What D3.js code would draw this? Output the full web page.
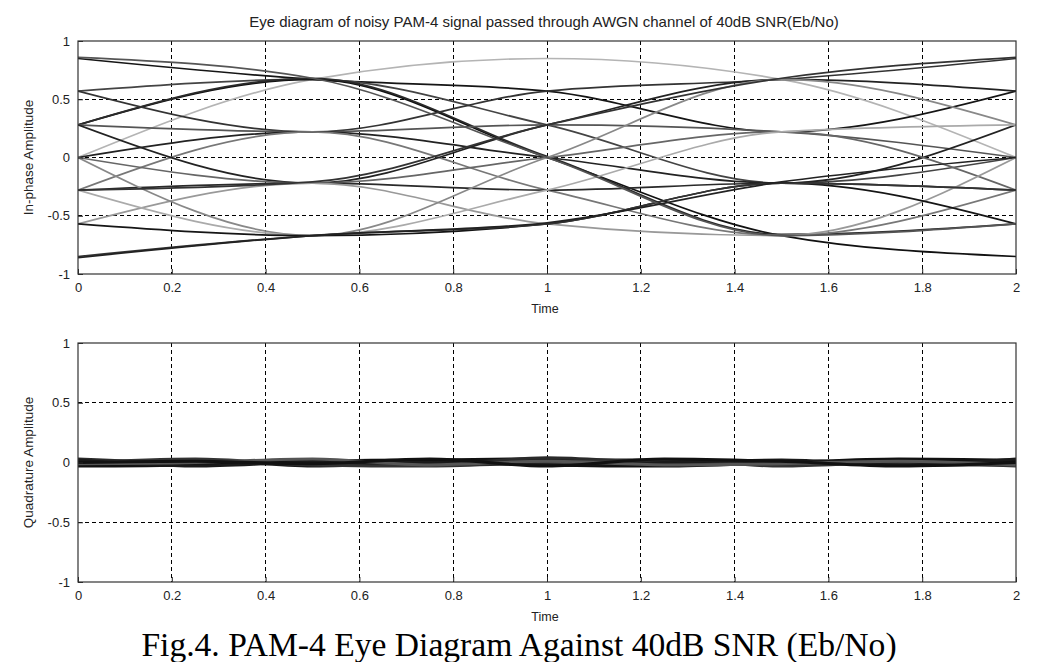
<!DOCTYPE html>
<html><head><meta charset="utf-8">
<script src="https://cdn.jsdelivr.net/npm/d3@7"></script>
<style>body{margin:0;background:#fff} svg{display:block}</style>
</head><body><svg id="c" width="1041" height="662"></svg>
<script>
// ---- data ----
const timePoints = [0, 0.5, 1, 1.5, 2];
const inphaseTraces = [
  [0.00, 0.67, 0.85, 0.67, 0.00],
  [0.85, 0.67, 0.57, 0.22, 0.57],
  [0.57, 0.67, 0.28, -0.22, 0.00],
  [0.28, 0.67, 0.00, -0.67, -0.85],
  [0.28, 0.68, 0.01, -0.66, -0.57],
  [0.57, 0.22, 0.57, 0.67, 0.85],
  [0.28, 0.22, 0.28, 0.22, 0.00],
  [0.00, 0.22, 0.00, -0.22, 0.28],
  [-0.28, 0.22, -0.28, -0.67, -0.28],
  [0.28, -0.22, 0.28, 0.67, 0.57],
  [0.00, -0.22, 0.00, 0.22, -0.28],
  [-0.28, -0.22, -0.28, -0.22, -0.28],
  [-0.57, -0.22, -0.57, -0.67, 0.00],
  [0.00, -0.67, 0.00, 0.67, 0.28],
  [-0.28, -0.67, -0.28, 0.22, 0.28],
  [-0.57, -0.67, -0.57, -0.22, -0.57],
  [-0.85, -0.67, -0.57, -0.22, -0.28],
  [0.86, 0.68, 0.00, -0.67, -0.57],
  [-0.28, -0.21, 0.28, 0.68, 0.86],
  [-0.86, -0.67, -0.56, -0.21, 0.00]
];
const inphaseColors = ["#b4b4b4","#151515","#444444","#111111","#2a2a2a","#333333","#555555","#222222",
  "#777777","#222222","#666666","#2a2a2a","#999999","#888888","#aaaaaa","#151515","#333333","#555555","#333333","#222222"];
const quadTime = [0, 0.25, 0.5, 0.75, 1, 1.25, 1.5, 1.75, 2];
const quadTraces = [
  [0.02, -0.01, 0.00, 0.02, 0.03, -0.01, 0.00, 0.02, 0.01],
  [-0.02, 0.02, -0.03, 0.00, 0.02, 0.02, -0.02, 0.00, 0.02],
  [0.03, 0.00, 0.02, -0.02, 0.04, 0.00, 0.01, -0.02, -0.02],
  [-0.03, -0.02, 0.01, 0.02, -0.02, -0.03, 0.00, 0.03, 0.02],
  [0.00, 0.03, -0.02, -0.03, 0.00, 0.02, -0.03, 0.00, -0.03],
  [0.02, -0.03, 0.00, 0.00, -0.02, 0.00, 0.02, -0.02, 0.03],
  [-0.01, 0.00, 0.03, -0.02, 0.01, -0.02, -0.01, 0.01, -0.02],
  [0.00, 0.01, -0.01, 0.03, -0.03, 0.03, 0.01, -0.03, 0.00]
];
const quadColors = ["#111111","#1a1a1a","#2a2a2a","#111111","#333333","#1a1a1a","#555555","#111111"];
const xTicks = [0, 0.2, 0.4, 0.6, 0.8, 1, 1.2, 1.4, 1.6, 1.8, 2];
const xTickLabels = ["0","0.2","0.4","0.6","0.8","1","1.2","1.4","1.6","1.8","2"];
const yTicks = [-1, -0.5, 0, 0.5, 1];
const yTickLabels = ["-1","-0.5","0","0.5","1"];
const titleText = "Eye diagram of noisy PAM-4 signal passed through AWGN channel of 40dB SNR(Eb/No)";
const captionText = "Fig.4. PAM-4 Eye Diagram Against 40dB SNR (Eb/No)";

// ---- drawing ----
const svg = d3.select("#c");
const left = 78, right = 1016;
const x = d3.scaleLinear().domain([0, 2]).range([left, right]);
const sans = "Liberation Sans, Arial, sans-serif";

function panel(id, top, bottom, ylabel, times, traces, colors, width) {
  const y = d3.scaleLinear().domain([-1, 1]).range([bottom, top]);
  const g = svg.append("g");
  g.append("clipPath").attr("id", id).append("rect")
    .attr("x", left).attr("y", top).attr("width", right - left).attr("height", bottom - top);
  // grid
  g.selectAll(".vg").data(xTicks.filter(d => d > 0 && d < 2)).join("line")
    .attr("x1", d => x(d)).attr("x2", d => x(d)).attr("y1", top).attr("y2", bottom)
    .attr("stroke", "#000").attr("stroke-width", 1).attr("stroke-dasharray", "4,3")
    .attr("shape-rendering", "crispEdges");
  g.selectAll(".hg").data(yTicks.filter(d => d > -1 && d < 1)).join("line")
    .attr("x1", left).attr("x2", right).attr("y1", d => y(d)).attr("y2", d => y(d))
    .attr("stroke", "#000").attr("stroke-width", 1).attr("stroke-dasharray", "4,3")
    .attr("shape-rendering", "crispEdges");
  // traces
  const line = d3.line().x((d, i) => x(times[i])).y(d => y(d)).curve(d3.curveMonotoneX);
  g.append("g").attr("clip-path", `url(#${id})`).selectAll("path").data(traces).join("path")
    .attr("d", line).attr("fill", "none")
    .attr("stroke", (d, i) => colors[i % colors.length]).attr("stroke-width", width);
  // axes
  const xa = g.append("g").attr("transform", `translate(0,${bottom})`)
    .call(d3.axisBottom(x).tickValues(xTicks).tickFormat((d, i) => xTickLabels[i]).tickSize(-5).tickPadding(9));
  const ya = g.append("g").attr("transform", `translate(${left},0)`)
    .call(d3.axisLeft(y).tickValues(yTicks).tickFormat((d, i) => yTickLabels[i]).tickSize(-5).tickPadding(8));
  [xa, ya].forEach(a => {
    a.select(".domain").remove();
    a.selectAll("line").attr("stroke", "#222");
    a.selectAll("text").attr("font-family", sans).attr("font-size", 13).attr("fill", "#222");
  });
  // frame
  g.append("rect").attr("x", left).attr("y", top).attr("width", right - left).attr("height", bottom - top)
    .attr("fill", "none").attr("stroke", "#333").attr("stroke-width", 1.2);
  // labels
  g.append("text").attr("x", (left + right) / 2 - 2).attr("y", bottom + 39).attr("text-anchor", "middle")
    .attr("font-family", sans).attr("font-size", 12.5).attr("fill", "#222").text("Time");
  g.append("text").attr("transform", `translate(33,${(top + bottom) / 2}) rotate(-90)`).attr("text-anchor", "middle")
    .attr("font-family", sans).attr("font-size", 13.5).attr("fill", "#222").text(ylabel);
}

panel("clipA", 41, 274, "In-phase Amplitude", timePoints, inphaseTraces, inphaseColors, 1.7);
panel("clipB", 343, 582, "Quadrature Amplitude", quadTime, quadTraces, quadColors, 3);

svg.append("text").attr("x", 544).attr("y", 27).attr("text-anchor", "middle")
  .attr("font-family", sans).attr("font-size", 15).attr("fill", "#222").text(titleText);
svg.append("text").attr("x", 519).attr("y", 656).attr("text-anchor", "middle")
  .attr("font-family", "Liberation Serif, Times New Roman, serif").attr("font-size", 33.6).attr("fill", "#000").text(captionText);
</script></body></html>
